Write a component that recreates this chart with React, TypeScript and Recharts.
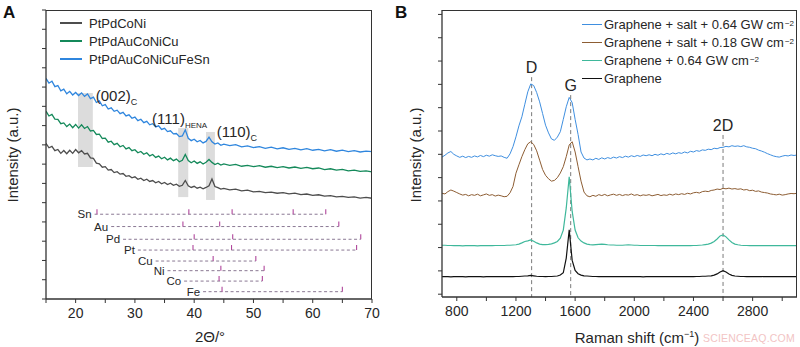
import React from "react";
import {
  LineChart,
  Line,
  XAxis,
  YAxis,
  ReferenceArea,
  ReferenceLine,
  ReferenceDot,
} from "recharts";

const FONT = "'Liberation Sans', Arial, Helvetica, sans-serif";
const INK = "#262626";

// ---------- panel A: XRD ----------
const XRD_ANGLE = [
  15, 15.5, 16, 16.5, 17, 17.5, 18, 18.5, 19, 19.5,
  20, 20.5, 21, 21.5, 22, 22.5, 23, 23.5, 24, 24.5,
  25, 25.5, 26, 26.5, 27, 27.5, 28, 28.5, 29, 29.5,
  30, 30.5, 31, 31.5, 32, 32.5, 33, 33.5, 34, 34.5,
  35, 35.5, 36, 36.5, 37, 37.5, 38, 38.5, 39, 39.5,
  40, 40.5, 41, 41.5, 42, 42.5, 43, 43.5, 44, 44.5,
  45,
  46, 47, 48, 49, 50, 51, 52, 53, 54, 55,
  56, 57, 58, 59, 60, 61, 62, 63, 64, 65,
  66, 67, 68, 69, 70,
];

const XRD_PTPDCONI = [
  80.8, 78.5, 79.2, 77.0, 77.6, 75.6, 77.1, 75.4, 77.2, 75.6,
  77.6, 75.9, 77.0, 75.3, 75.6, 73.2, 73.0, 70.5, 70.2, 68.4,
  68.7, 66.9, 67.2, 65.6, 66.1, 64.8, 65.1, 63.7, 64.0, 62.9,
  63.4, 62.1, 62.7, 61.5, 62.2, 61.0, 61.5, 60.3, 61.0, 59.8,
  60.5, 59.4, 60.1, 59.0, 59.6, 58.5, 59.0, 61.5, 58.8, 57.9,
  58.5, 57.5, 58.0, 57.2, 57.9, 58.8, 62.3, 58.4, 57.8, 57.0,
  57.4,
  56.6, 57.0, 56.1, 56.5, 55.6, 55.9, 55.2, 55.5, 54.9, 55.2,
  54.6, 54.9, 54.2, 54.5, 53.8, 54.1, 53.4, 53.7, 53.0, 53.3,
  52.7, 53.0, 52.4, 52.7, 52.3,
];

const XRD_PTPDAUCONICU = [
  97.5, 95.0, 95.8, 93.4, 93.2, 91.0, 91.4, 89.5, 90.8, 88.9,
  90.6, 88.7, 90.4, 88.5, 89.5, 87.2, 87.5, 85.4, 85.6, 83.3,
  83.5, 81.4, 81.9, 80.1, 80.8, 79.0, 79.7, 77.9, 78.6, 77.0,
  77.5, 75.9, 76.6, 75.1, 75.9, 74.3, 75.0, 73.5, 74.2, 72.8,
  73.6, 72.2, 73.1, 71.8, 72.6, 71.2, 72.0, 75.0, 71.9, 70.7,
  71.6, 70.4, 71.2, 70.1, 71.0, 72.4, 70.9, 69.8, 70.5, 69.5,
  70.1,
  69.4, 69.9, 68.9, 69.4, 68.7, 69.2, 68.4, 68.9, 68.2, 68.7,
  68.0, 68.5, 67.8, 68.3, 67.6, 68.0, 67.2, 67.6, 66.9, 67.3,
  66.5, 66.9, 66.2, 66.5, 66.0,
];

const XRD_PTPDAUCONICUFESN = [
  114.5, 112.0, 113.0, 110.2, 110.8, 108.0, 108.9, 106.5, 107.8, 105.9,
  107.2, 105.6, 107.0, 105.2, 106.4, 104.0, 104.8, 102.0, 102.8, 100.3,
  100.9, 98.6, 99.2, 97.4, 98.0, 96.2, 96.9, 95.0, 95.6, 93.8,
  94.4, 92.6, 93.3, 91.5, 92.2, 90.4, 91.0, 89.3, 89.9, 88.0,
  88.6, 86.9, 87.3, 85.7, 85.9, 84.3, 84.6, 87.8, 83.4, 82.2,
  82.9, 81.6, 82.3, 81.0, 81.8, 84.0, 81.6, 80.4, 81.0, 79.8,
  80.4,
  79.6, 80.1, 79.0, 79.5, 78.6, 79.1, 78.2, 78.8, 77.9, 78.5,
  77.7, 78.2, 77.4, 78.0, 77.2, 77.7, 76.9, 77.5, 76.7, 77.3,
  76.5, 77.0, 76.3, 76.8, 76.5,
];

const XRD_X_TICKS = [15, 20, 25, 30, 35, 40, 45, 50, 55, 60, 65, 70];
const XRD_Y_TICKS = [0, 10, 20, 30, 40, 50, 60, 70, 80, 90, 100, 110, 120, 130, 140, 150];

// shaded peak regions: [from, to] in 2θ and intensity
const XRD_BAND_X = [[20.4, 22.9], [37.3, 39.0], [42.0, 43.5]];
const XRD_BAND_Y = [[68.5, 106.9], [52.9, 88.7], [51.4, 86.7]];

// reference patterns (standard peak positions)
const REF_PHASES = ["Sn", "Au", "Pd", "Pt", "Cu", "Ni", "Co", "Fe"];
const REF_LEVEL = [44.0, 37.6, 31.0, 25.4, 19.7, 14.7, 9.3, 3.8];
const REF_START = [23.2, 26.0, 28.0, 30.5, 33.5, 35.5, 38.3, 41.5];
const REF_PEAKS = [
  [23.6, 39.1, 46.4, 56.7, 62.2],
  [38.1, 44.3, 64.4],
  [40.0, 46.5, 68.1],
  [39.8, 46.3, 67.4],
  [43.2, 50.4],
  [44.5, 51.8],
  [44.2, 51.5],
  [44.7, 65.0],
];

const XRD_SERIES = [
  { key: "ptpdconi", name: "PtPdCoNi", color: "#4d4d4d", values: XRD_PTPDCONI },
  { key: "ptpdauconicu", name: "PtPdAuCoNiCu", color: "#14895a", values: XRD_PTPDAUCONICU },
  { key: "hea8", name: "PtPdAuCoNiCuFeSn", color: "#2f86de", values: XRD_PTPDAUCONICUFESN },
];

// ---------- panel B: Raman ----------
const RAMAN_SHIFT = [
  700, 720, 740, 760, 780, 800, 820, 840, 860, 880,
  900, 920, 940, 960, 980, 1000, 1020, 1040, 1060, 1080,
  1100, 1120, 1140, 1160, 1180, 1200, 1220, 1240, 1260, 1280,
  1300, 1320, 1340, 1360, 1380, 1400, 1420, 1440, 1460, 1480,
  1500, 1520, 1540, 1560, 1580, 1600, 1620, 1640, 1660, 1680,
  1700, 1720, 1740, 1760, 1780, 1800, 1820, 1840, 1860, 1880,
  1900, 1920, 1940, 1960, 1980, 2000, 2020, 2040, 2060, 2080,
  2100, 2120, 2140, 2160, 2180, 2200, 2220, 2240, 2260, 2280,
  2300, 2320, 2340, 2360, 2380, 2400, 2420, 2440, 2460, 2480,
  2500, 2520, 2540, 2560, 2580, 2600, 2620, 2640, 2660, 2680,
  2700, 2720, 2740, 2760, 2780, 2800, 2820, 2840, 2860, 2880,
  2900, 2920, 2940, 2960, 2980, 3000, 3020, 3040, 3060, 3080,
  3100,
];

const RAMAN_SALT_064 = [
  5.88, 5.96, 6.06, 6.12, 6.0, 5.93, 5.87, 5.92, 5.86, 5.91,
  5.87, 5.93, 5.89, 5.95, 5.9, 5.96, 5.92, 5.98, 5.94, 5.91,
  5.93, 5.87, 5.83, 6.02, 6.33, 6.75, 7.22, 7.61, 8.15, 8.68,
  9.02, 8.95, 8.65, 8.25, 7.75, 7.25, 6.92, 6.66, 6.6, 6.74,
  6.97, 7.5, 8.04, 8.44, 8.22, 7.5, 6.85, 6.1, 5.84, 5.76,
  5.8, 5.76, 5.83, 5.78, 5.85, 5.8, 5.86, 5.82, 5.88, 5.84,
  5.9, 5.86, 5.92, 5.88, 5.94, 5.9, 5.95, 5.91, 5.97, 5.94,
  5.98, 5.94, 6.0, 5.96, 6.02, 5.98, 6.04, 6.0, 6.06, 6.02,
  6.07, 6.04, 6.1, 6.06, 6.13, 6.1, 6.16, 6.13, 6.19, 6.17,
  6.22, 6.2, 6.26, 6.24, 6.29, 6.3, 6.34, 6.32, 6.37, 6.34,
  6.36, 6.33, 6.37, 6.32, 6.3, 6.26, 6.24, 6.18, 6.14, 6.09,
  6.03, 5.98, 5.93, 5.9, 5.88, 5.92, 5.95, 5.93, 5.97, 5.95,
  5.97,
];

const RAMAN_SALT_018 = [
  4.33, 4.3, 4.4, 4.47, 4.42, 4.36, 4.3, 4.25, 4.28, 4.22,
  4.27, 4.24, 4.29, 4.22, 4.26, 4.3, 4.24, 4.27, 4.21, 4.25,
  4.22, 4.18, 4.2, 4.35, 4.62, 5.19, 5.55, 5.9, 6.2, 6.45,
  6.54, 6.42, 6.15, 5.75, 5.35, 5.1, 4.95, 4.85, 4.88, 5.0,
  5.2, 5.47, 5.9, 6.4, 6.54, 6.1, 5.47, 4.85, 4.38, 4.22,
  4.18, 4.24, 4.2, 4.27, 4.23, 4.28, 4.22, 4.26, 4.29, 4.24,
  4.28, 4.23, 4.27, 4.25, 4.3, 4.24, 4.27, 4.22, 4.26, 4.24,
  4.27, 4.22, 4.25, 4.28, 4.23, 4.26, 4.24, 4.29, 4.25, 4.3,
  4.27, 4.31, 4.28, 4.33, 4.3, 4.35, 4.37, 4.34, 4.4, 4.42,
  4.4, 4.45, 4.47, 4.51, 4.49, 4.54, 4.52, 4.55, 4.51, 4.53,
  4.5, 4.52, 4.47, 4.49, 4.44, 4.46, 4.41, 4.43, 4.38, 4.36,
  4.34, 4.3, 4.28, 4.26, 4.29, 4.25, 4.27, 4.3, 4.32, 4.31,
  4.33,
];

const RAMAN_LASER_064 = [
  2.1, 2.1, 2.09, 2.09, 2.08, 2.08, 2.08, 2.07, 2.08, 2.08,
  2.08, 2.08, 2.07, 2.08, 2.08, 2.08, 2.08, 2.08, 2.09, 2.09,
  2.09, 2.09, 2.1, 2.1, 2.11, 2.12, 2.15, 2.2, 2.26, 2.29,
  2.33, 2.27, 2.2, 2.15, 2.13, 2.13, 2.14, 2.16, 2.2, 2.26,
  2.4, 2.75, 3.7, 5.04, 3.55, 2.75, 2.42, 2.28, 2.2, 2.15,
  2.13, 2.12, 2.13, 2.14, 2.15, 2.14, 2.12, 2.11, 2.11, 2.1,
  2.1, 2.1, 2.11, 2.12, 2.11, 2.1, 2.1, 2.09, 2.09, 2.09,
  2.09, 2.09, 2.09, 2.08, 2.08, 2.08, 2.08, 2.08, 2.08, 2.08,
  2.08, 2.08, 2.08, 2.08, 2.08, 2.09, 2.09, 2.1, 2.11, 2.13,
  2.15, 2.19, 2.26, 2.37, 2.5, 2.54, 2.46, 2.33, 2.22, 2.15,
  2.12, 2.1, 2.09, 2.09, 2.08, 2.08, 2.08, 2.08, 2.08, 2.08,
  2.08, 2.08, 2.08, 2.08, 2.08, 2.08, 2.08, 2.08, 2.08, 2.08,
  2.08,
];

const RAMAN_GRAPHENE = [
  0.75, 0.76, 0.75, 0.74, 0.75, 0.76, 0.75, 0.75, 0.74, 0.75,
  0.75, 0.76, 0.75, 0.75, 0.74, 0.75, 0.76, 0.75, 0.75, 0.76,
  0.75, 0.75, 0.76, 0.75, 0.75, 0.76, 0.76, 0.77, 0.78, 0.79,
  0.81, 0.79, 0.77, 0.76, 0.76, 0.75, 0.76, 0.76, 0.77, 0.78,
  0.82, 0.92, 1.55, 2.76, 1.45, 1.02, 0.88, 0.82, 0.79, 0.78,
  0.77, 0.76, 0.76, 0.75, 0.76, 0.75, 0.75, 0.76, 0.75, 0.75,
  0.75, 0.76, 0.75, 0.75, 0.75, 0.76, 0.75, 0.75, 0.74, 0.75,
  0.75, 0.75, 0.76, 0.75, 0.75, 0.75, 0.76, 0.75, 0.75, 0.75,
  0.76, 0.75, 0.75, 0.75, 0.76, 0.75, 0.76, 0.76, 0.77, 0.77,
  0.78, 0.79, 0.82, 0.87, 0.95, 1.01, 0.95, 0.87, 0.81, 0.78,
  0.77, 0.76, 0.76, 0.75, 0.75, 0.76, 0.75, 0.75, 0.75, 0.76,
  0.75, 0.75, 0.76, 0.75, 0.75, 0.75, 0.76, 0.75, 0.75, 0.75,
  0.75,
];

const RAMAN_X_TICKS = [800, 1000, 1200, 1400, 1600, 1800, 2000, 2200, 2400, 2600, 2800, 3000];
const RAMAN_Y_TICKS = [0, 1, 2, 3, 4, 5, 6, 7, 8, 9, 10, 11, 12];
const RAMAN_MODES = ["D", "G", "2D"];
const RAMAN_MODE_SHIFT = [1306, 1570, 2600];
const RAMAN_MODE_TOP = [9.31, 8.54, 6.83];

const RAMAN_SERIES = [
  { key: "salt064", name: "Graphene + salt + 0.64 GW cm", sup: "−2", color: "#3f8fe0", width: 1, values: RAMAN_SALT_064 },
  { key: "salt018", name: "Graphene + salt + 0.18 GW cm", sup: "−2", color: "#8d5d33", width: 1, values: RAMAN_SALT_018 },
  { key: "laser064", name: "Graphene + 0.64 GW cm", sup: "−2", color: "#3fb89b", width: 1.2, values: RAMAN_LASER_064 },
  { key: "graphene", name: "Graphene", sup: "", color: "#111111", width: 1.2, values: RAMAN_GRAPHENE },
];

const xrdData = XRD_ANGLE.map((angle, i) => {
  const row: Record<string, number> = { angle };
  XRD_SERIES.forEach((s) => (row[s.key] = s.values[i]));
  return row;
});

const ramanData = RAMAN_SHIFT.map((shift, i) => {
  const row: Record<string, number> = { shift };
  RAMAN_SERIES.forEach((s) => (row[s.key] = s.values[i]));
  return row;
});

const axisLine = { stroke: "#333", strokeWidth: 1.3 };
const tickLine = { stroke: "#333", strokeWidth: 1 };

function subLabel(main: string, sub: string, size = 14, subSize = 9) {
  return (props: any) => {
    const vb = props.viewBox || {};
    const x = (vb.x ?? 0) + (vb.width ?? 0) / 2;
    const y = (vb.y ?? 0) + (vb.height ?? 0) / 2;
    return (
      <text x={x} y={y} fontSize={size} fill={INK} fontFamily={FONT}>
        {main}
        <tspan fontSize={subSize} dy={4}>
          {sub}
        </tspan>
      </text>
    );
  };
}

function phaseLabel(name: string) {
  return (props: any) => {
    const vb = props.viewBox || {};
    const x = (vb.x ?? 0) + (vb.width ?? 0) / 2;
    const y = (vb.y ?? 0) + (vb.height ?? 0) / 2;
    return (
      <text x={x - 3} y={y + 4} fontSize={11.5} fill={INK} fontFamily={FONT} textAnchor="end">
        {name}
      </text>
    );
  };
}

function modeLabel(name: string) {
  return (props: any) => {
    const vb = props.viewBox || {};
    const x = (vb.x ?? 0) + (vb.width ?? 0) / 2;
    const y = (vb.y ?? 0) + (vb.height ?? 0) / 2;
    return (
      <text x={x} y={y - 4} fontSize={16} fill={INK} fontFamily={FONT} textAnchor="middle">
        {name}
      </text>
    );
  };
}

const abs = (left: number, top: number, extra: React.CSSProperties = {}): React.CSSProperties => ({
  position: "absolute",
  left,
  top,
  ...extra,
});

function XrdPanel() {
  return (
    <div style={abs(0, 0, { width: 380, height: 347 })}>
      <LineChart width={380} height={347} data={xrdData} margin={{ top: 10, right: 8, bottom: 18, left: 6 }}>
        <XAxis
          dataKey="angle"
          type="number"
          domain={[15, 70]}
          ticks={XRD_X_TICKS}
          tickFormatter={(v) => (v % 10 === 0 ? String(v) : "")}
          tickSize={4}
          tickMargin={5}
          height={30}
          axisLine={axisLine}
          tickLine={tickLine}
          tick={{ fontSize: 14, fill: INK, fontFamily: FONT }}
          allowDataOverflow
        />
        <YAxis
          type="number"
          domain={[0, 150]}
          ticks={XRD_Y_TICKS}
          tickFormatter={() => ""}
          tickSize={4}
          width={40}
          axisLine={axisLine}
          tickLine={tickLine}
          allowDataOverflow
        />
        {XRD_BAND_X.map((b, i) => (
          <ReferenceArea
            key={"band" + i}
            x1={b[0]}
            x2={b[1]}
            y1={XRD_BAND_Y[i][0]}
            y2={XRD_BAND_Y[i][1]}
            fill="#c4c4c4"
            fillOpacity={0.6}
            stroke="none"
          />
        ))}
        {XRD_SERIES.map((s) => (
          <Line
            key={s.key}
            dataKey={s.key}
            name={s.name}
            type="linear"
            stroke={s.color}
            strokeWidth={1.3}
            dot={false}
            isAnimationActive={false}
          />
        ))}
        {REF_PHASES.map((p, i) => {
          const peaks = REF_PEAKS[i];
          const end = peaks[peaks.length - 1];
          return (
            <React.Fragment key={p}>
              <ReferenceLine
                segment={[
                  { x: REF_START[i], y: REF_LEVEL[i] },
                  { x: end, y: REF_LEVEL[i] },
                ]}
                stroke="#8a7893"
                strokeWidth={1}
                strokeDasharray="3 2.5"
                ifOverflow="visible"
              />
              {peaks.map((pk) => (
                <ReferenceLine
                  key={p + pk}
                  segment={[
                    { x: pk, y: REF_LEVEL[i] },
                    { x: pk, y: REF_LEVEL[i] + 2.6 },
                  ]}
                  stroke="#b0479c"
                  strokeWidth={1.1}
                  ifOverflow="visible"
                />
              ))}
              <ReferenceDot x={REF_START[i]} y={REF_LEVEL[i]} r={1} fill="none" stroke="none" label={phaseLabel(p)} />
            </React.Fragment>
          );
        })}
        <ReferenceDot x={23.4} y={102.8} r={1} fill="none" stroke="none" label={subLabel("(002)", "C", 15, 9)} />
        <ReferenceDot x={32.9} y={90.8} r={1} fill="none" stroke="none" label={subLabel("(111)", "HENA", 15, 8)} />
        <ReferenceDot x={43.8} y={84.1} r={1} fill="none" stroke="none" label={subLabel("(110)", "C", 15, 9)} />
      </LineChart>
      <div style={abs(46, 10, { width: 326, height: 289, borderTop: "1.3px solid #333", borderRight: "1.3px solid #333", boxSizing: "border-box", pointerEvents: "none" })} />
      {XRD_SERIES.map((s, i) => (
        <div key={s.key} style={abs(60, 14 + i * 18, { display: "flex", alignItems: "center", height: 18, fontSize: 13, color: INK, whiteSpace: "nowrap" })}>
          <span style={{ display: "inline-block", width: 22, borderTop: `2px solid ${s.color}`, marginRight: 7 }} />
          {s.name}
        </div>
      ))}
    </div>
  );
}

function RamanPanel() {
  return (
    <div style={abs(400, 0, { width: 400, height: 347 })}>
      <LineChart width={400} height={347} data={ramanData} margin={{ top: 10, right: 3, bottom: 20, left: 2 }}>
        <XAxis
          dataKey="shift"
          type="number"
          domain={[700, 3100]}
          ticks={RAMAN_X_TICKS}
          tickFormatter={(v) => ((v - 800) % 400 === 0 ? String(v) : "")}
          tickSize={4}
          tickMargin={5}
          height={30}
          axisLine={axisLine}
          tickLine={tickLine}
          tick={{ fontSize: 14, fill: INK, fontFamily: FONT }}
          allowDataOverflow
        />
        <YAxis
          type="number"
          domain={[-0.12, 12.19]}
          ticks={RAMAN_Y_TICKS}
          tickFormatter={() => ""}
          tickSize={4}
          width={40}
          axisLine={axisLine}
          tickLine={tickLine}
          allowDataOverflow
        />
        {RAMAN_MODES.map((m, i) => (
          <ReferenceLine
            key={"mode" + m}
            segment={[
              { x: RAMAN_MODE_SHIFT[i], y: RAMAN_MODE_TOP[i] },
              { x: RAMAN_MODE_SHIFT[i], y: -0.12 },
            ]}
            stroke="#7a7a7a"
            strokeWidth={1}
            strokeDasharray="4 3"
            ifOverflow="visible"
          />
        ))}
        {[...RAMAN_SERIES].reverse().map((s) => (
          <Line
            key={s.key}
            dataKey={s.key}
            name={s.name}
            type="linear"
            stroke={s.color}
            strokeWidth={s.width}
            dot={false}
            isAnimationActive={false}
          />
        ))}
        {RAMAN_MODES.map((m, i) => (
          <ReferenceDot
            key={"lbl" + m}
            x={RAMAN_MODE_SHIFT[i]}
            y={RAMAN_MODE_TOP[i]}
            r={1}
            fill="none"
            stroke="none"
            label={modeLabel(m)}
          />
        ))}
      </LineChart>
      <div style={abs(42, 10, { width: 355, height: 287, borderTop: "1.3px solid #333", borderRight: "1.3px solid #333", boxSizing: "border-box", pointerEvents: "none" })} />
      {RAMAN_SERIES.map((s, i) => (
        <div key={s.key} style={abs(182, 15 + i * 18, { display: "flex", alignItems: "center", height: 18, fontSize: 13, color: INK, whiteSpace: "nowrap" })}>
          <span style={{ display: "inline-block", width: 20, borderTop: `1.2px solid ${s.color}`, marginRight: 2 }} />
          {s.name}
          {s.sup && <sup style={{ fontSize: 8, marginLeft: 1, position: "relative", top: -1 }}>{s.sup}</sup>}
        </div>
      ))}
    </div>
  );
}

export default function App() {
  const title: React.CSSProperties = { fontSize: 15, color: INK, whiteSpace: "nowrap" };
  return (
    <div style={abs(0, 0, { width: 800, height: 347, background: "#fff", fontFamily: FONT, overflow: "hidden" })}>
      <XrdPanel />
      <RamanPanel />
      <div style={abs(3, 3, { fontSize: 17, fontWeight: 700, color: "#111" })}>A</div>
      <div style={abs(395, 3, { fontSize: 17, fontWeight: 700, color: "#111" })}>B</div>
      <div style={abs(12, 155, { ...title, transform: "translate(-50%, -50%) rotate(-90deg)" })}>Intensity (a.u.)</div>
      <div style={abs(415, 155, { ...title, transform: "translate(-50%, -50%) rotate(-90deg)" })}>Intensity (a.u.)</div>
      <div style={abs(210, 336, { ...title, transform: "translate(-50%, -50%)" })}>2Θ/°</div>
      <div style={abs(637, 337, { ...title, transform: "translate(-50%, -50%)" })}>
        Raman shift (cm<sup style={{ fontSize: 9 }}>−1</sup>)
      </div>
      <div style={abs(703, 332, { fontSize: 10.5, color: "#f2c4c4", letterSpacing: 0.2 })}>SCIENCEAQ.COM</div>
    </div>
  );
}
